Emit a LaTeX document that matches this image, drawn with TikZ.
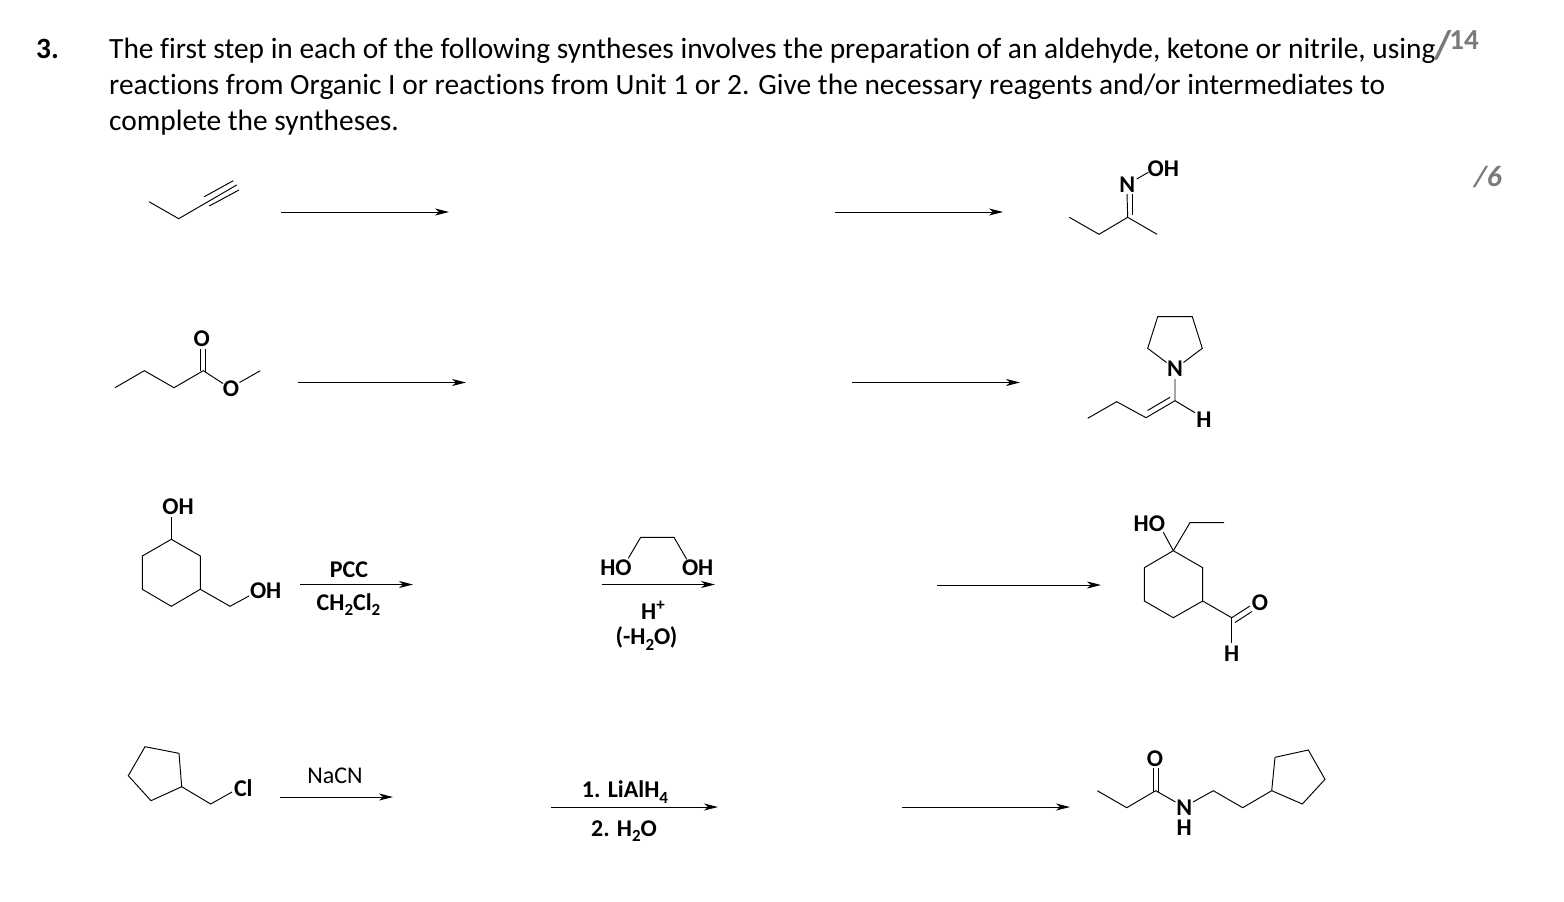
\documentclass[tikz,border=0pt]{standalone}
\usepackage{fontspec}
\setmainfont[Ligatures={NoCommon,NoContextual}]{Carlito}
\usetikzlibrary{arrows.meta}
\newcommand{\lowr}[1]{\raisebox{-0.22em}{\fontsize{17}{17}\selectfont #1}}
\newcommand{\uppr}[1]{\raisebox{0.38em}{\fontsize{17}{17}\selectfont #1}}
\tikzset{
  bodytext/.style={inner sep=0pt,anchor=base west,font=\fontsize{29.4}{29.4}\selectfont,text=black},
  atom/.style={inner sep=0pt,font=\fontsize{24}{24}\selectfont\bfseries,text=black},
  reagent/.style={inner sep=0pt,font=\fontsize{24}{24}\selectfont\bfseries,text=black},
  plainreagent/.style={inner sep=0pt,font=\fontsize{24}{24}\selectfont,text=black},
  marktext/.style={inner sep=0pt,text=black!52,font=\bfseries},
  bond/.style={draw=black,line width=0.95pt,line join=miter},
  rxn/.style={draw=black,line width=1pt,-{Stealth[length=14pt,width=7pt,inset=4pt]}},
}
\begin{document}
\begin{tikzpicture}[x=1pt,y=-1pt]
\useasboundingbox (0,0) rectangle (1564,902);
% text
\node[bodytext,font=\fontsize{29.4}{29.4}\selectfont\bfseries] (qn) at (36,58) {3.};
\node[bodytext] (l1) at (109,58) {The first step in each of the following syntheses involves the preparation of an aldehyde, ketone or nitrile, using};
\node[bodytext] (l2) at (109,94) {reactions from Organic I or reactions from Unit 1 or 2. Give the necessary reagents and/or intermediates to};
\node[bodytext] (l3) at (109,130) {complete the syntheses.};
\node[marktext,font=\fontsize{40}{40}\selectfont\bfseries] (sl) at (1443,45) {/};
\node[marktext,font=\fontsize{29}{29}\selectfont\bfseries] (m14) at (1464,40) {14};
\node[marktext,font=\fontsize{29.5}{29.5}\selectfont\bfseries\itshape] (m6) at (1488,177) {/6};

% arrows
\coordinate (a1s) at (281,212); \coordinate (a1e) at (449,212);
\coordinate (a2s) at (835,212); \coordinate (a2e) at (1003,212);
\coordinate (a3s) at (298,382.5); \coordinate (a3e) at (466,382.5);
\coordinate (a4s) at (852,382.5); \coordinate (a4e) at (1020,382.5);
\coordinate (a5s) at (300,584.5); \coordinate (a5e) at (413,584.5);
\coordinate (a6s) at (602,584.5); \coordinate (a6e) at (715,584.5);
\coordinate (a7s) at (937,585); \coordinate (a7e) at (1101,585);
\coordinate (a8s) at (280,797); \coordinate (a8e) at (393,797);
\coordinate (a9s) at (551,807); \coordinate (a9e) at (718,807);
\coordinate (a10s) at (902,807); \coordinate (a10e) at (1070,807);
\foreach \i in {1,...,10} {\draw[rxn] (a\i s) -- (a\i e);}

% reagents
\node[reagent] (pcc) at (349,569.5) {PCC};
\node[reagent] (dcm) at (348.5,604.5) {CH\lowr{2}Cl\lowr{2}};
\node[reagent] (hplus) at (653,610) {H\uppr{+}};
\node[reagent] (mh2o) at (646.5,638.5) {(-H\lowr{2}O)};
\node[plainreagent] (nacn) at (335,776) {NaCN};
\node[reagent] (lah) at (625,792) {1. LiAlH\lowr{4}};
\node[reagent] (wat) at (624,831) {2. H\lowr{2}O};

% 1: butyne
\coordinate (b1) at (149,201.7); \coordinate (b2) at (178.7,218.7); \coordinate (b3) at (236.7,185);
\coordinate (b4) at (204.3,196.7); \coordinate (b5) at (233.3,180.7);
\coordinate (b6) at (209.3,206); \coordinate (b7) at (239,190);
\draw[bond] (b1) -- (b2) -- (b3);
\draw[bond] (b4) -- (b5);
\draw[bond] (b6) -- (b7);

% 2: methyl butanoate
\coordinate (e1) at (115,387.7); \coordinate (e2) at (144.3,370.7); \coordinate (e3) at (174,387.7); \coordinate (e4) at (203.3,370.7);
\coordinate (e5) at (260.3,370.7);
\node[atom] (eo1) at (201.7,339) {O};
\node[atom] (eo2) at (231,388.7) {O};
\coordinate (e6) at (200.3,370.7); \coordinate (e7) at (200.3,348.5);
\coordinate (e8) at (205.3,372); \coordinate (e9) at (205.3,348.5);
\coordinate (e10) at (223,383.5); \coordinate (e11) at (239.5,382.5);
\draw[bond] (e1) -- (e2) -- (e3) -- (e4) -- (e10);
\draw[bond] (e11) -- (e5);
\draw[bond] (e6) -- (e7);
\draw[bond] (e8) -- (e9);

% 3: cyclohexane diol
\node[atom] (do1) at (178,506.7) {OH};
\node[atom] (do2) at (265.7,591) {OH};
\coordinate (d1) at (171.3,539.3); \coordinate (d2) at (200.3,556); \coordinate (d3) at (200.3,589.3);
\coordinate (d4) at (171.3,606.3); \coordinate (d5) at (142.3,589.3); \coordinate (d6) at (142.3,556);
\coordinate (d7) at (230,606.3); \coordinate (d8) at (171.3,516.5); \coordinate (d9) at (249,596);
\draw[bond] (d1) -- (d2) -- (d3) -- (d4) -- (d5) -- (d6) -- cycle;
\draw[bond] (d1) -- (d8);
\draw[bond] (d3) -- (d7) -- (d9);

% ethylene glycol
\node[atom] (go1) at (616,568) {HO};
\node[atom] (go2) at (697.7,568) {OH};
\coordinate (g1) at (628.3,558.3); \coordinate (g2) at (640.7,537.3); \coordinate (g3) at (674,537.3); \coordinate (g4) at (686.7,559.3);
\draw[bond] (g1) -- (g2) -- (g3) -- (g4);

% oxime
\node[atom] (xn) at (1127.3,185) {N};
\node[atom] (xo) at (1163.3,168.3) {OH};
\coordinate (x1) at (1069.3,217.3); \coordinate (x2) at (1099,234.3); \coordinate (x3) at (1127.7,217.3); \coordinate (x4) at (1157,234.3);
\coordinate (x5) at (1136.7,179); \coordinate (x6) at (1148.3,172.3);
\coordinate (x7) at (1127,194); \coordinate (x8) at (1132.5,194); \coordinate (x9) at (1132.5,214.5);
\draw[bond] (x1) -- (x2) -- (x3) -- (x4);
\draw[bond] (x3) -- (x7);
\draw[bond] (x8) -- (x9);
\draw[bond] (x5) -- (x6);

% enamine
\node[atom] (en) at (1175,369) {N};
\node[atom] (eh) at (1204,419.3) {H};
\coordinate (n1) at (1202.3,348.3); \coordinate (n2) at (1192.3,316.7); \coordinate (n3) at (1157.7,316.7); \coordinate (n4) at (1147.7,348.3);
\coordinate (n5) at (1183.5,362.5); \coordinate (n6) at (1166.5,362.5); \coordinate (n7) at (1175,379);
\coordinate (n8) at (1175,400.7); \coordinate (n9) at (1146,417.7); \coordinate (n10) at (1116.7,401.7); \coordinate (n11) at (1087.7,418.3);
\coordinate (n12) at (1195,412.7); \coordinate (n13) at (1147.5,410.5); \coordinate (n14) at (1170,397.3);
\draw[bond] (n5) -- (n1) -- (n2) -- (n3) -- (n4) -- (n6);
\draw[bond] (n7) -- (n8) -- (n9) -- (n10) -- (n11);
\draw[bond] (n8) -- (n12);
\draw[bond] (n13) -- (n14);

% hydroxy aldehyde
\node[atom] (ph) at (1149.3,524) {HO};
\node[atom] (po) at (1260,602.7) {O};
\node[atom] (pa) at (1231.7,653.3) {H};
\coordinate (p1) at (1173.3,550.7); \coordinate (p2) at (1202.7,567.7); \coordinate (p3) at (1202.7,601);
\coordinate (p4) at (1173.3,617.7); \coordinate (p5) at (1144.3,601); \coordinate (p6) at (1144.3,567.7);
\coordinate (p7) at (1163.3,532.3); \coordinate (p8) at (1190,522.7); \coordinate (p9) at (1224,522.7);
\coordinate (p10) at (1231.7,617.7); \coordinate (p11) at (1250,606); \coordinate (p12) at (1235,622.5); \coordinate (p13) at (1252,611.5);
\coordinate (p14) at (1231.7,643);
\draw[bond] (p1) -- (p2) -- (p3) -- (p4) -- (p5) -- (p6) -- cycle;
\draw[bond] (p1) -- (p7);
\draw[bond] (p1) -- (p8) -- (p9);
\draw[bond] (p3) -- (p10) -- (p11);
\draw[bond] (p12) -- (p13);
\draw[bond] (p10) -- (p14);

% chloride
\node[atom] (cl) at (243.3,788.3) {Cl};
\coordinate (c1) at (145,746.7); \coordinate (c2) at (179,753.3); \coordinate (c3) at (181.7,786.7);
\coordinate (c4) at (151,800.7); \coordinate (c5) at (128.3,775.7); \coordinate (c6) at (210.7,804); \coordinate (c7) at (232,792);
\draw[bond] (c1) -- (c2) -- (c3) -- (c4) -- (c5) -- cycle;
\draw[bond] (c3) -- (c6) -- (c7);

% amide
\node[atom] (ao) at (1155,758.3) {O};
\node[atom,align=center,font=\fontsize{24}{20}\selectfont\bfseries] (an) at (1184.3,817.5) {N\\H};
\coordinate (k1) at (1097.3,790.7); \coordinate (k2) at (1126.7,807.7); \coordinate (k3) at (1155.7,790.7);
\coordinate (k4) at (1175.5,802); \coordinate (k5) at (1193,802); \coordinate (k6) at (1213.3,790.7);
\coordinate (k7) at (1242.7,807.7); \coordinate (k8) at (1271.7,790.7); \coordinate (k9) at (1275,757.3);
\coordinate (k10) at (1308.3,750); \coordinate (k11) at (1325,779.3); \coordinate (k12) at (1302.3,804);
\coordinate (k13) at (1153,791.5); \coordinate (k14) at (1153,768); \coordinate (k15) at (1158,792.5); \coordinate (k16) at (1158,768);
\draw[bond] (k1) -- (k2) -- (k3) -- (k4);
\draw[bond] (k5) -- (k6) -- (k7) -- (k8);
\draw[bond] (k8) -- (k9) -- (k10) -- (k11) -- (k12) -- cycle;
\draw[bond] (k13) -- (k14);
\draw[bond] (k15) -- (k16);
\end{tikzpicture}
\end{document}
